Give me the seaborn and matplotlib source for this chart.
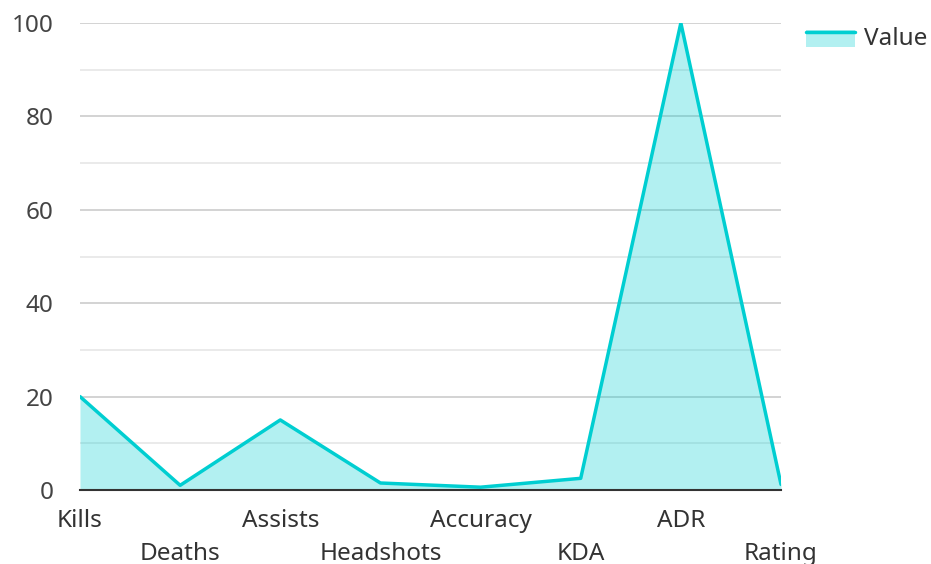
import matplotlib
matplotlib.use("Agg")
import matplotlib.pyplot as plt
import matplotlib.transforms as mtransforms
import seaborn as sns
import pandas as pd
import numpy as np
from matplotlib.legend_handler import HandlerBase
from matplotlib.patches import Rectangle
from matplotlib.lines import Line2D

categories = ["Kills", "Deaths", "Assists", "Headshots", "Accuracy", "KDA", "ADR", "Rating"]
values = [20, 1, 15, 1.5, 0.6, 2.5, 100, 1.2]
series_name = "Value"
y_ticks = [0, 20, 40, 60, 80, 100]

sns.set_theme(style="white")
plt.rcParams['font.family'] = ['Noto Sans', 'DejaVu Sans']

line_color = "#00CED1"
text_color = "#333333"
fs = 17.5

df = pd.DataFrame({"x": np.arange(len(categories)), "y": values})

fig = plt.figure(figsize=(9.31, 5.64), dpi=100)
ax = fig.add_axes([80/931, 1-490/564, (781-80)/931, (490-23)/564])

ax.fill_between(df["x"], df["y"], 0, color=line_color, alpha=0.3, linewidth=0, zorder=2)
sns.lineplot(data=df, x="x", y="y", ax=ax, color=line_color, linewidth=2.5, zorder=3)

ax.set_xlim(0, len(categories) - 1)
ax.set_ylim(0, 100)
ax.set_yticks(y_ticks)
ax.set_yticks([10, 30, 50, 70, 90], minor=True)
ax.grid(axis="y", which="major", color="#cccccc", linewidth=1.2, zorder=0)
ax.grid(axis="y", which="minor", color="#e6e6e6", linewidth=1.2, zorder=0)
ax.grid(axis="x", visible=False)
ax.set_axisbelow(True)
for s in ["top", "right", "left"]:
    ax.spines[s].set_visible(False)
ax.spines["bottom"].set_color("#333333")
ax.spines["bottom"].set_linewidth(1.5)
ax.spines["bottom"].set_zorder(4)

ax.set_xticks(df["x"])
ax.set_xticklabels(categories)
ax.tick_params(axis="x", length=0, pad=13.5, labelsize=fs, labelcolor=text_color)
ax.tick_params(axis="y", which="both", length=0, pad=19, labelsize=fs, labelcolor="#444444")
shift = mtransforms.ScaledTranslation(0, -0.33, fig.dpi_scale_trans)
for i, lbl in enumerate(ax.get_xticklabels()):
    if i % 2 == 1:
        lbl.set_transform(lbl.get_transform() + shift)
ax.set_xlabel("")
ax.set_ylabel("")


class FillLineHandler(HandlerBase):
    def create_artists(self, legend, orig_handle, xdescent, ydescent, width, height, fontsize, trans):
        rect = Rectangle((-xdescent, -ydescent - height * 0.1), width, height * 1.0,
                         facecolor=line_color, alpha=0.3, edgecolor="none", transform=trans)
        ln = Line2D([-xdescent, -xdescent + width], [-ydescent + height * 0.75] * 2,
                    color=line_color, linewidth=2.5, transform=trans)
        return [rect, ln]


handle = Rectangle((0, 0), 1, 1)
fig.legend([handle], [series_name], handler_map={Rectangle: FillLineHandler()},
           loc="upper left", bbox_to_anchor=(806/931, 1-27/564), frameon=False,
           fontsize=fs, labelcolor=text_color, handlelength=2.0, handletextpad=0.4,
           borderaxespad=0, borderpad=0.0)

fig.savefig("out.png", dpi=100)
